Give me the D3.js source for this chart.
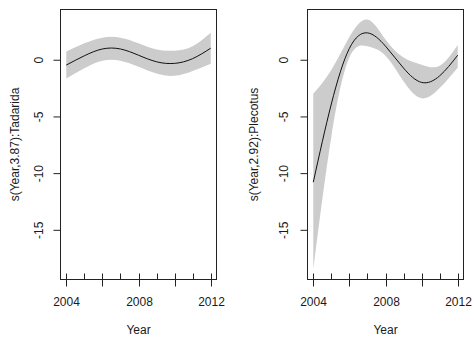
<!DOCTYPE html>
<html>
<head>
<meta charset="utf-8">
<script src="https://cdn.jsdelivr.net/npm/d3@7"></script>
<style>
  body { margin: 0; background: #fff; }
  text { font-family: "Liberation Sans", Arial, sans-serif; font-size: 12px; fill: #1a1a1a; }
</style>
</head>
<body>
<svg id="chart" width="474" height="339"></svg>
<script>
// years of the smooth (also where the rug ticks sit)
var years = [2004, 2005, 2006, 2007, 2008, 2009, 2010, 2011, 2012];

// Tadarida smooth and its +/- 2 se band
var tadFit   = [-0.47, 0.35, 0.95, 0.95, 0.4, -0.18, -0.32, 0.1, 1.02];
var tadUpper = [0.72, 1.45, 1.95, 1.95, 1.45, 0.9, 0.8, 1.2, 2.38];
var tadLower = [-1.65, -0.75, -0.08, -0.08, -0.62, -1.22, -1.42, -1.0, -0.35];

// Plecotus smooth and its band
var pleFit   = [-10.8, -3.9, 1.0, 2.37, 1.2, -0.74, -2.0, -1.42, 0.4];
var pleUpper = [-3.0, -0.9, 2.0, 3.55, 1.78, 0.2, -0.44, -0.53, 1.3];
var pleLower = [-18.5, -6.8, 0.2, 1.18, 0.35, -1.9, -3.4, -2.5, -0.7];

var yTicks = [0, -5, -10, -15];
var xTicks = [2004, 2006, 2008, 2010, 2012];
var xTickLabels = [2004, 2008, 2012];

var width = 474,
  height = 339;
var plotTop = 9.5,
  plotBottom = 279.5;

var svg = d3.select("#chart");

// shared y range, padded 4% like R does
var allVals = tadUpper.concat(tadLower, pleUpper, pleLower);
var yMin = d3.min(allVals),
  yMax = d3.max(allVals);
var yPad = (yMax - yMin) * 0.04;
var xPad = (d3.max(years) - d3.min(years)) * 0.04;

var panels = [
  { label: "s(Year,3.87):Tadarida", fit: tadFit, upper: tadUpper, lower: tadLower,
    left: 60.5, right: 216.5, tickLabelX: 38.5, titleX: 15 },
  { label: "s(Year,2.92):Plecotus", fit: pleFit, upper: pleUpper, lower: pleLower,
    left: 307.5, right: 463.5, tickLabelX: 284, titleX: 254 }
];

function drawPanel(p) {
  var g = svg.append("g");

  var x = d3.scaleLinear()
    .domain([d3.min(years) - xPad, d3.max(years) + xPad])
    .range([p.left, p.right]);

  var y = d3.scaleLinear()
    .domain([yMin - yPad, yMax + yPad])
    .range([plotBottom, plotTop]);

  var rows = years.map(function (yr, i) {
    return { year: yr, fit: p.fit[i], upper: p.upper[i], lower: p.lower[i] };
  });

  // confidence band
  var band = d3.area()
    .x(function (d) { return x(d.year); })
    .y0(function (d) { return y(d.lower); })
    .y1(function (d) { return y(d.upper); })
    .curve(d3.curveNatural);

  g.append("path")
    .datum(rows)
    .attr("d", band)
    .attr("fill", "#cccccc");

  // fitted smooth
  var line = d3.line()
    .x(function (d) { return x(d.year); })
    .y(function (d) { return y(d.fit); })
    .curve(d3.curveNatural);

  g.append("path")
    .datum(rows)
    .attr("d", line)
    .attr("fill", "none")
    .attr("stroke", "#111")
    .attr("stroke-width", 1);

  // rug
  g.append("g")
    .selectAll("line")
    .data(years)
    .join("line")
    .attr("x1", function (d) { return Math.round(x(d)) + 0.5; })
    .attr("x2", function (d) { return Math.round(x(d)) + 0.5; })
    .attr("y1", plotBottom)
    .attr("y2", plotBottom - 6)
    .attr("stroke", "#222");

  // y axis, labels parallel to the axis
  g.append("g")
    .attr("transform", "translate(" + p.left + ",0)")
    .call(d3.axisLeft(y).tickValues(yTicks).tickSize(7).tickFormat(function (d) { return String(d); }))
    .call(function (a) { a.select(".domain").remove(); })
    .call(function (a) { a.selectAll("line").attr("stroke", "#222"); })
    .call(function (a) {
      a.selectAll("text")
        .attr("x", null)
        .attr("y", null)
        .attr("dy", "0.35em")
        .attr("text-anchor", "middle")
        .attr("fill", null)
        .attr("transform", "translate(" + (p.tickLabelX - p.left) + ",0) rotate(-90)");
    });

  // x axis
  g.append("g")
    .attr("transform", "translate(0," + plotBottom + ")")
    .call(d3.axisBottom(x).tickValues(xTicks).tickSize(7).tickPadding(11)
      .tickFormat(function (d) { return xTickLabels.indexOf(d) >= 0 ? String(d) : ""; }))
    .call(function (a) { a.select(".domain").remove(); })
    .call(function (a) {
      a.selectAll(".tick").attr("transform", function (d) {
        return "translate(" + (Math.round(x(d)) + 0.5) + ",0)";
      });
    })
    .call(function (a) { a.selectAll("line").attr("stroke", "#222"); })
    .call(function (a) { a.selectAll("text").attr("fill", null); });

  // strip the font attributes the axis puts on its group so the css applies
  g.selectAll("g").attr("font-size", null).attr("font-family", null);

  // box
  g.append("rect")
    .attr("x", p.left)
    .attr("y", plotTop)
    .attr("width", p.right - p.left)
    .attr("height", plotBottom - plotTop)
    .attr("fill", "none")
    .attr("stroke", "#222");

  // titles
  g.append("text")
    .attr("text-anchor", "middle")
    .attr("x", (p.left + p.right) / 2)
    .attr("y", 334)
    .text("Year");

  g.append("text")
    .attr("text-anchor", "middle")
    .attr("dy", "0.35em")
    .attr("transform", "translate(" + p.titleX + "," + (plotTop + plotBottom) / 2 + ") rotate(-90)")
    .text(p.label);
}

panels.forEach(drawPanel);
</script>
</body>
</html>
